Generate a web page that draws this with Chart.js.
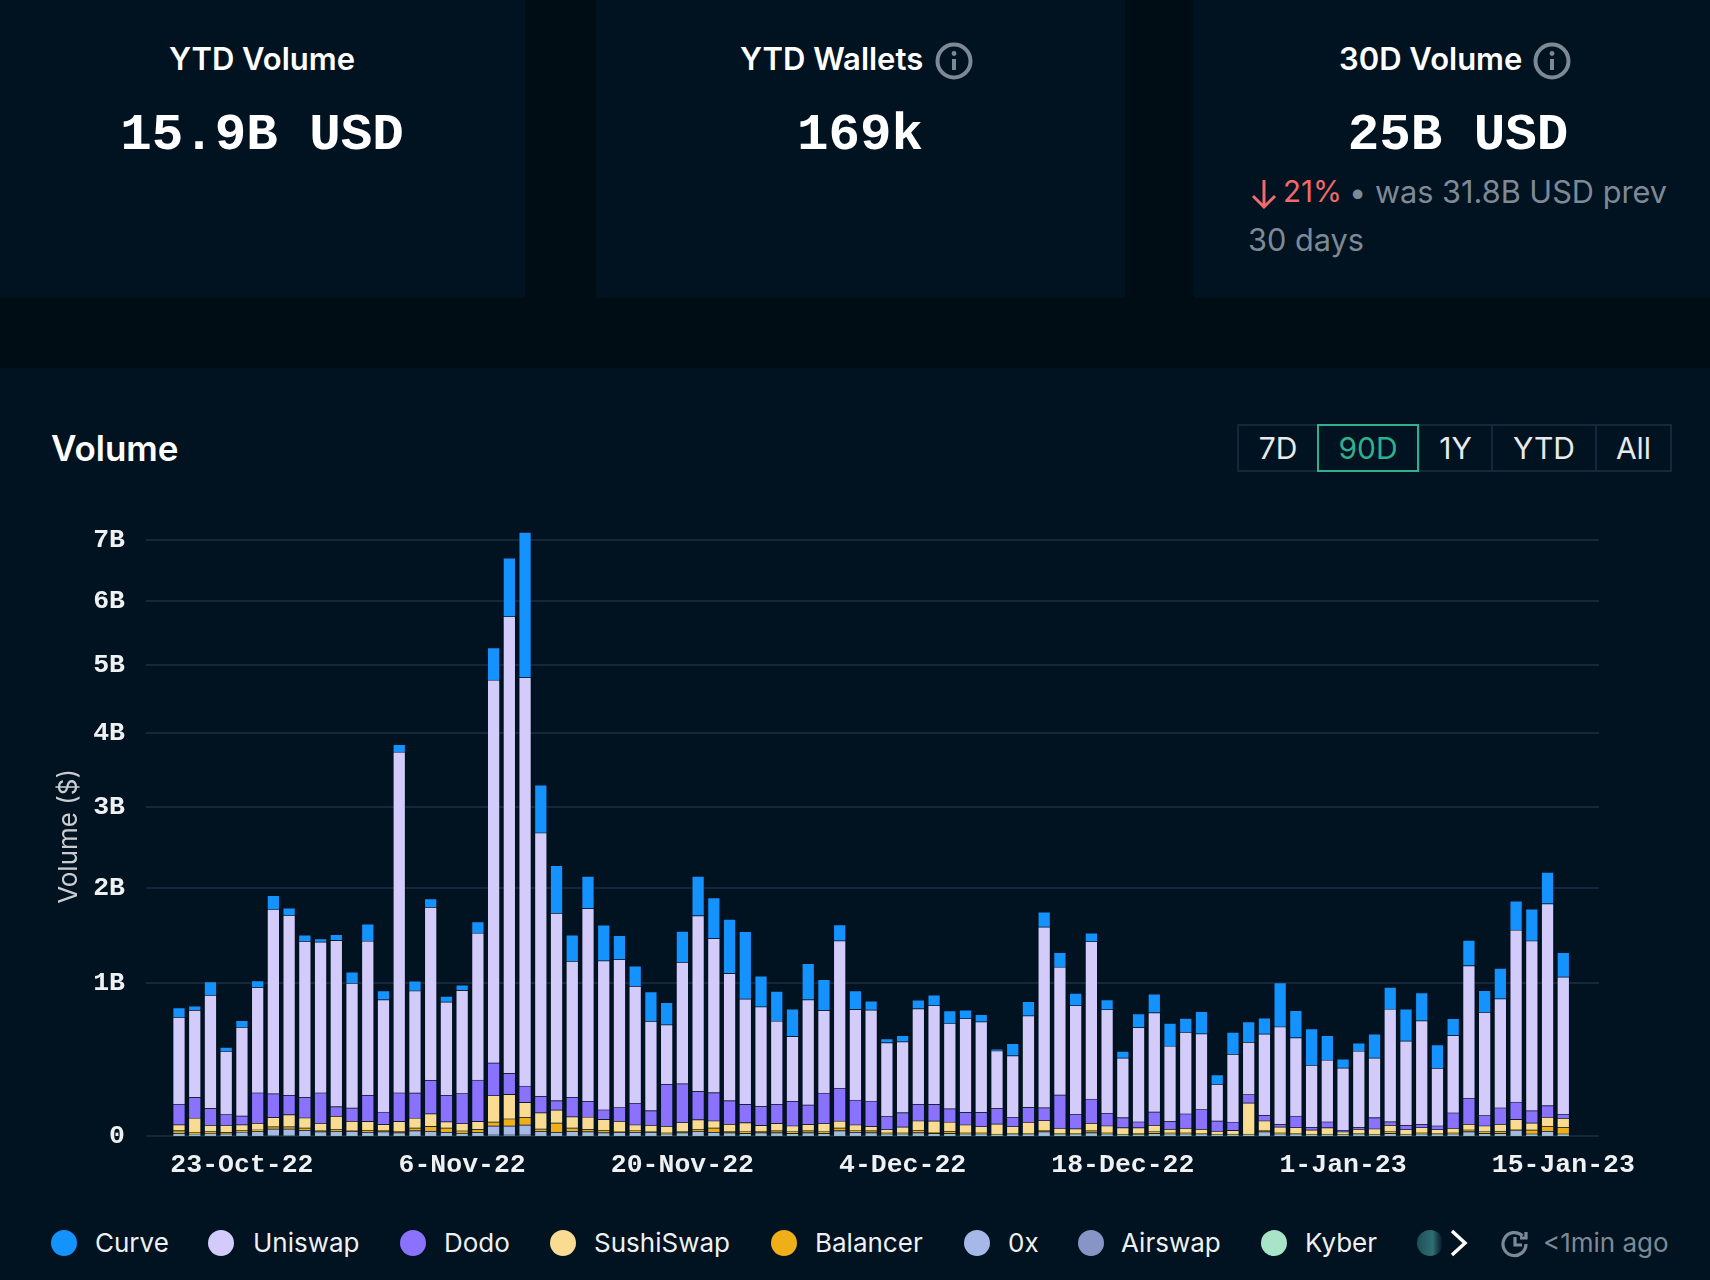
<!DOCTYPE html>
<html lang="en">
<head>
    <meta charset="UTF-8">
    <title>Volume</title>
    <style>
        html, body { margin: 0; padding: 0; }
        body { width: 1710px; height: 1280px; position: relative; overflow: hidden; background: #000d15; font-family: Inter, sans-serif; color: #fff; }
        .panel { position: absolute; background: #011220; }
        .txt { position: absolute; white-space: nowrap; line-height: 1; transform: translateY(-50%); }
        .mid { transform: translate(-50%, -50%); }
        .head { font-size: 31px; font-weight: 600; }
        .big { font-family: "Liberation Mono", monospace; font-size: 52.5px; font-weight: 700; }
        .grey { color: #7d8a96; font-size: 30.7px; }
        .btn { position: absolute; top: 424px; height: 48px; box-sizing: border-box; border: 2px solid #15273a; font-size: 30px; line-height: 44px; text-align: center; color: #e8eaed; }
        .btn.on { border-color: #2fb08e; color: #2fb08e; z-index: 1; }
        .dot { position: absolute; top: 1230px; width: 26px; height: 26px; border-radius: 50%; }
        .leg { font-size: 26px; color: #eef0f2; }
        svg { position: absolute; fill: none; }
        canvas { position: absolute; left: 0; top: 500px; }
    </style>
    <script src="https://cdn.jsdelivr.net/npm/chart.js"></script>
</head>
<body>
    <!-- stat cards -->
    <div class="panel" style="left:0;top:0;width:525px;height:298px"></div>
    <div class="panel" style="left:596px;top:0;width:529px;height:298px"></div>
    <div class="panel" style="left:1194px;top:0;width:516px;height:298px"></div>
    <div class="panel" style="left:0;top:368px;width:1710px;height:912px"></div>

    <div class="txt mid head" style="left:262px;top:58px">YTD Volume</div>
    <div class="txt mid big" style="left:262px;top:135px">15.9B USD</div>

    <div class="txt head" style="left:740px;top:58px">YTD Wallets</div>
    <svg style="left:935px;top:42px" width="38" height="38" viewBox="0 0 38 38">
        <circle cx="19" cy="19" r="16.5" stroke="#7d8a96" stroke-width="4"/>
        <path d="M19 17v11" stroke="#7d8a96" stroke-width="4"/><circle cx="19" cy="11.5" r="2.4" fill="#7d8a96"/>
    </svg>
    <div class="txt mid big" style="left:860px;top:135px">169k</div>

    <div class="txt head" style="left:1339px;top:58px">30D Volume</div>
    <svg style="left:1533px;top:42px" width="38" height="38" viewBox="0 0 38 38">
        <circle cx="19" cy="19" r="16.5" stroke="#7d8a96" stroke-width="4"/>
        <path d="M19 17v11" stroke="#7d8a96" stroke-width="4"/><circle cx="19" cy="11.5" r="2.4" fill="#7d8a96"/>
    </svg>
    <div class="txt mid big" style="left:1458px;top:135px">25B USD</div>

    <svg style="left:1250px;top:178px" width="28" height="32" viewBox="0 0 28 32">
        <path d="M14 2v27M3 18l11 11 11-11" stroke="#f0696b" stroke-width="3"/>
    </svg>
    <div class="txt grey" style="left:1283px;top:192px;color:#f0696b;font-size:29.5px">21%</div>
    <div class="txt grey" style="left:1349px;top:192px">• was 31.8B USD prev</div>
    <div class="txt grey" style="left:1248px;top:240px">30 days</div>

    <!-- chart header -->
    <div class="txt" style="left:51px;top:448px;font-size:35px;font-weight:600">Volume</div>
    <div class="btn" style="left:1237px;width:82px">7D</div>
    <div class="btn on" style="left:1317px;width:102px">90D</div>
    <div class="btn" style="left:1418px;width:75px">1Y</div>
    <div class="btn" style="left:1491px;width:106px">YTD</div>
    <div class="btn" style="left:1595px;width:77px">All</div>

    <canvas id="volumeChart" width="1710" height="681"></canvas>

    <!-- legend gets filled from the series below -->
    <div id="legend"></div>
    <div class="dot" style="left:1417px;background:linear-gradient(90deg,#1f4f5a,#2f6e72 60%,#011220)"></div>
    <svg style="left:1447px;top:1228px" width="24" height="30" viewBox="0 0 24 30">
        <path d="M5 3l13 12L5 27" stroke="#fff" stroke-width="3.5"/>
    </svg>
    <svg style="left:1500px;top:1229px" width="30" height="30" viewBox="0 0 30 30">
        <path d="M26 15a11.5 11.5 0 1 1-3.5-8.2M26 3v6h-6M15 8v8h7" stroke="#7d8a96" stroke-width="3.2"/>
    </svg>
    <div class="txt leg" style="left:1543px;top:1243px;color:#7d8a96">&lt;1min ago</div>

    <script>
        const days = [
            '19-Oct-22','20-Oct-22','21-Oct-22','22-Oct-22','23-Oct-22','24-Oct-22','25-Oct-22','26-Oct-22','27-Oct-22','28-Oct-22','29-Oct-22','30-Oct-22','31-Oct-22',
            '1-Nov-22','2-Nov-22','3-Nov-22','4-Nov-22','5-Nov-22','6-Nov-22','7-Nov-22','8-Nov-22','9-Nov-22','10-Nov-22','11-Nov-22','12-Nov-22','13-Nov-22','14-Nov-22','15-Nov-22','16-Nov-22','17-Nov-22','18-Nov-22','19-Nov-22','20-Nov-22','21-Nov-22','22-Nov-22','23-Nov-22','24-Nov-22','25-Nov-22','26-Nov-22','27-Nov-22','28-Nov-22','29-Nov-22','30-Nov-22',
            '1-Dec-22','2-Dec-22','3-Dec-22','4-Dec-22','5-Dec-22','6-Dec-22','7-Dec-22','8-Dec-22','9-Dec-22','10-Dec-22','11-Dec-22','12-Dec-22','13-Dec-22','14-Dec-22','15-Dec-22','16-Dec-22','17-Dec-22','18-Dec-22','19-Dec-22','20-Dec-22','21-Dec-22','22-Dec-22','23-Dec-22','24-Dec-22','25-Dec-22','26-Dec-22','27-Dec-22','28-Dec-22','29-Dec-22','30-Dec-22','31-Dec-22',
            '1-Jan-23','2-Jan-23','3-Jan-23','4-Jan-23','5-Jan-23','6-Jan-23','7-Jan-23','8-Jan-23','9-Jan-23','10-Jan-23','11-Jan-23','12-Jan-23','13-Jan-23','14-Jan-23','15-Jan-23'
        ];
        const xTickLabels = ['23-Oct-22','6-Nov-22','20-Nov-22','4-Dec-22','18-Dec-22','1-Jan-23','15-Jan-23'];
        const yTicks = [0, 1, 2, 3, 4, 5, 6, 7];
        const yTickLabels = ['0', '1B', '2B', '3B', '4B', '5B', '6B', '7B'];

        // daily volume per venue, in billions of USD
        const curve = [.080,.035,.125,.030,.055,.063,.156,.079,.065,.033,.061,.106,.180,.081,.105,.092,.096,.052,.050,.120,.490,.950,2.32,.620,.550,.270,.369,.370,.247,.192,.258,.190,.316,.448,.444,.556,.663,.283,.262,.225,.341,.280,.171,.167,.078,.030,.049,.075,.095,.105,.073,.061,.014,.089,.124,.161,.147,.111,.089,.086,.048,.115,.165,.179,.116,.184,.058,.166,.163,.130,.388,.224,.272,.182,.060,.061,.178,.196,.260,.245,.167,.137,.258,.194,.285,.319,.342,.362,.242];
        const uniswap = [.595,.620,.805,.371,.562,.798,1.602,1.546,1.278,1.246,1.333,.915,1.269,.782,3.576,.769,1.548,.681,.776,1.266,4.431,5.48,4.617,2.523,1.596,1.073,1.652,1.14,1.142,.865,.590,.424,.990,1.519,1.282,.973,.754,.694,.561,.423,.750,.594,1.234,.640,.640,.443,.435,.667,.695,.564,.619,.593,.349,.351,.621,1.481,1.004,.739,1.284,.700,.336,.582,.667,.436,.513,.484,.178,.379,.344,.506,.595,.480,.317,.336,.308,.417,.336,.736,.487,.646,.293,.484,1.036,.686,.771,1.42,1.347,1.726,1.001];
        const dodo = [.082,.094,.064,.038,.031,.136,.111,.092,.094,.136,.041,.053,.117,.046,.130,.117,.174,.117,.133,.204,.200,.124,.088,.079,.044,.090,.069,.039,.055,.087,.054,.194,.186,.132,.129,.098,.075,.074,.079,.101,.078,.136,.154,.103,.103,.043,.051,.070,.069,.053,.046,.051,.060,.031,.060,.052,.140,.049,.103,.045,.033,.018,.049,.023,.050,.070,.030,.024,.043,.021,.008,.039,.007,.018,.003,.005,.036,.011,.012,.009,.010,.054,.110,.036,.064,.075,.047,.050,.015];
        const sushiswap = [.016,.042,.017,.018,.016,.019,.031,.042,.033,.021,.043,.027,.026,.016,.028,.032,.045,.019,.020,.024,.117,.112,.065,.056,.050,.037,.040,.033,.029,.016,.017,.016,.025,.030,.022,.020,.025,.015,.020,.015,.017,.022,.021,.016,.011,.007,.014,.028,.032,.026,.020,.015,.025,.016,.029,.029,.011,.010,.021,.017,.014,.013,.017,.008,.010,.009,.005,.007,.111,.028,.014,.013,.008,.014,.004,.009,.011,.017,.009,.012,.008,.010,.016,.015,.019,.031,.020,.030,.030];
        const balancer = [.005,.003,.003,.003,.003,.003,.006,.006,.006,.002,.004,.002,.004,.003,.003,.007,.012,.010,.005,.006,.013,.024,.027,.005,.025,.008,.005,.005,.002,.003,.001,.002,.002,.004,.010,.002,.003,.003,.004,.003,.004,.003,.007,.003,.004,.002,.002,.005,.002,.004,.002,.002,.001,.001,.001,.003,.001,.001,.004,.002,.001,.002,.003,.002,.002,.001,.001,.001,.001,.003,.002,.001,.001,.001,.001,.001,.001,.003,.001,.002,.001,.002,.004,.003,.004,.002,.008,.013,.015];
        const zeroX = [.003,.002,.003,.002,.005,.007,.012,.012,.009,.006,.007,.007,.005,.006,.004,.008,.007,.005,.003,.005,.020,.020,.023,.007,.005,.007,.006,.004,.005,.005,.005,.002,.004,.007,.005,.004,.003,.004,.004,.003,.004,.003,.008,.005,.004,.002,.002,.004,.003,.003,.002,.002,.001,.002,.002,.006,.002,.002,.004,.002,.001,.001,.003,.002,.002,.002,.001,.001,.001,.006,.002,.002,.001,.001,.001,.002,.001,.003,.001,.002,.002,.002,.006,.003,.003,.009,.002,.007,.002];
        const airswap = [.0004,.0003,.0003,.0002,.0004,.0004,.0005,.0005,.0004,.0003,.0004,.0003,.0003,.0003,.0003,.0004,.0004,.0003,.0003,.0003,.0006,.0006,.0006,.0004,.0003,.0004,.0003,.0003,.0003,.0003,.0003,.0002,.0003,.0004,.0003,.0003,.0002,.0003,.0003,.0002,.0003,.0002,.0004,.0003,.0003,.0002,.0002,.0003,.0002,.0002,.0002,.0002,.0001,.0002,.0002,.0003,.0002,.0002,.0003,.0002,.0001,.0001,.0002,.0002,.0002,.0002,.0001,.0001,.0001,.0003,.0002,.0002,.0001,.0001,.0001,.0002,.0001,.0002,.0001,.0002,.0002,.0002,.0003,.0002,.0002,.0004,.0002,.0003,.0002];
        const kyber = [.0002,.0001,.0002,.0001,.0002,.0002,.0003,.0003,.0002,.0002,.0002,.0002,.0002,.0002,.0002,.0002,.0002,.0002,.0001,.0002,.0003,.0003,.0003,.0002,.0002,.0002,.0002,.0002,.0002,.0002,.0002,.0001,.0002,.0002,.0002,.0002,.0001,.0002,.0002,.0001,.0002,.0001,.0002,.0002,.0002,.0001,.0001,.0002,.0001,.0001,.0001,.0001,.0001,.0001,.0001,.0002,.0001,.0001,.0002,.0001,.0001,.0001,.0001,.0001,.0001,.0001,.0001,.0001,.0001,.0002,.0001,.0001,.0001,.0001,.0001,.0001,.0001,.0001,.0001,.0001,.0001,.0001,.0002,.0001,.0001,.0002,.0001,.0002,.0001];

        const seriesNames = ['Curve', 'Uniswap', 'Dodo', 'SushiSwap', 'Balancer', '0x', 'Airswap', 'Kyber'];
        const seriesValues = [curve, uniswap, dodo, sushiswap, balancer, zeroX, airswap, kyber];
        const seriesColors = ['#1493ff', '#d3ccfb', '#8a71fe', '#f9dc91', '#eeaf19', '#a5b8e8', '#8795c6', '#a8e4c8'];

        // legend positions
        const legendDotX = [51, 208, 400, 550, 771, 964, 1078, 1261];
        const legendTextX = [95, 253, 444, 594, 815, 1008, 1121, 1305];

        // the y axis of the reference is a power scale, exponent about 0.7
        const yExponent = 0.7;
        class PowerScale extends Chart.LinearScale {
            static id = 'power';
            static defaults = {};
            getPixelForValue(value) {
                const v = Math.max(value || 0, 0);
                return this.getPixelForDecimal(Math.pow(v / this.max, yExponent));
            }
            getValueForPixel(pixel) {
                return this.max * Math.pow(this.getDecimalForPixel(pixel), 1 / yExponent);
            }
        }
        Chart.register(PowerScale);

        const legend = document.getElementById('legend');
        seriesNames.forEach((name, i) => {
            const dot = document.createElement('div');
            dot.className = 'dot';
            dot.style.left = legendDotX[i] + 'px';
            dot.style.background = seriesColors[i];
            legend.appendChild(dot);
            const label = document.createElement('div');
            label.className = 'txt leg';
            label.style.left = legendTextX[i] + 'px';
            label.style.top = '1243px';
            label.textContent = name;
            legend.appendChild(label);
        });

        const tickFont = { family: '"Liberation Mono", monospace', size: 26.5, weight: '700' };

        // bottom of the stack goes first
        const datasets = seriesNames.map((name, i) => ({
            label: name,
            data: seriesValues[i].map((v, d) => ({ x: d, y: v })),
            backgroundColor: seriesColors[i],
            borderColor: 'rgba(1, 18, 32, 0.12)',
            borderWidth: 1,
            barThickness: 12.6,
            clip: false
        })).reverse();

        new Chart(document.getElementById('volumeChart'), {
            type: 'bar',
            data: { datasets: datasets },
            options: {
                responsive: false,
                animation: false,
                devicePixelRatio: 1,
                layout: { padding: { top: 29, right: 111 } },
                plugins: { legend: { display: false }, tooltip: { enabled: false } },
                scales: {
                    x: {
                        type: 'linear',
                        stacked: true,
                        offset: false,
                        bounds: 'data',
                        min: -2.098,
                        max: 90.27,
                        grid: { display: false, offset: false },
                        border: { display: false },
                        afterBuildTicks: scale => { scale.ticks = xTickLabels.map(d => ({ value: days.indexOf(d) })); },
                        afterFit: scale => { scale.height = 45; },
                        ticks: {
                            color: '#eef0f2',
                            font: tickFont,
                            padding: 5,
                            autoSkip: false,
                            maxRotation: 0,
                            minRotation: 0,
                            callback: value => days[value]
                        }
                    },
                    y: {
                        type: 'power',
                        stacked: true,
                        min: 0,
                        max: 7.06,
                        bounds: 'data',
                        grid: { color: '#15273a', lineWidth: 2, drawTicks: false },
                        border: { display: false },
                        afterBuildTicks: scale => { scale.ticks = yTicks.map(v => ({ value: v })); },
                        afterFit: scale => { scale.width = 146; },
                        title: {
                            display: true,
                            text: 'Volume ($)',
                            color: '#c9cdd2',
                            font: { family: 'Inter', size: 26, weight: '400' },
                            padding: { top: 54, bottom: 0 }
                        },
                        ticks: {
                            color: '#eef0f2',
                            font: tickFont,
                            padding: 21,
                            callback: (value, i) => yTickLabels[i]
                        }
                    }
                }
            }
        });
    </script>
</body>
</html>
